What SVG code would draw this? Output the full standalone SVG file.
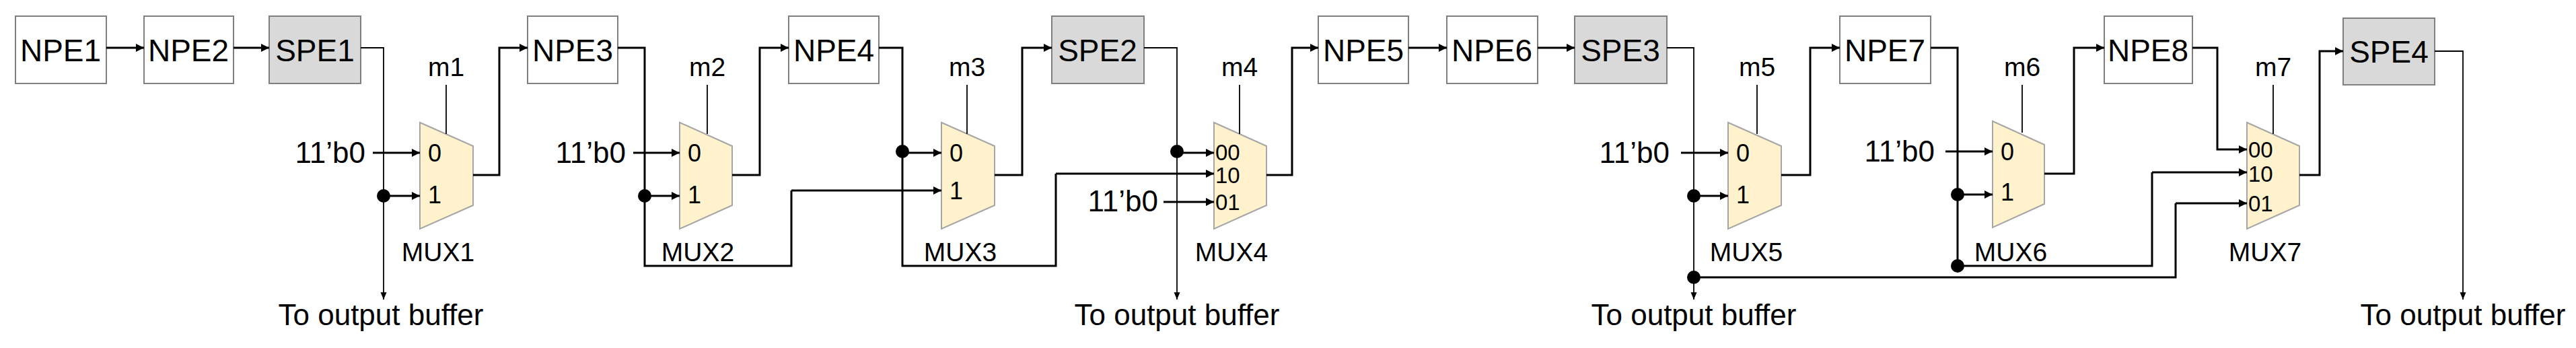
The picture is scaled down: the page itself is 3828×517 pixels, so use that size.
<svg xmlns="http://www.w3.org/2000/svg" width="3828" height="517" viewBox="0 0 3828 517">
<style>
text{font-family:"Liberation Sans",Arial,sans-serif;fill:#000}
.bx{fill:#fff;stroke:#7f7f7f;stroke-width:2}
.sp{fill:#d9d9d9;stroke:#7f7f7f;stroke-width:2}
.bt{font-size:46px;text-anchor:middle}
.mux{fill:#fff2cc;stroke:#a6a6a6;stroke-width:2}
.ml{font-size:36px}
.m2{font-size:33px}
.lb{font-size:39px;text-anchor:middle}
.k{font-size:44px;text-anchor:end}
.ob{font-size:44px;text-anchor:middle}
.w{fill:none;stroke:#000;stroke-width:3}
.t{fill:none;stroke:#000;stroke-width:1.8}
.wa{fill:none;stroke:#000;stroke-width:3;marker-end:url(#a)}
.ta{fill:none;stroke:#000;stroke-width:1.8;marker-end:url(#a2)}
</style>
<defs>
<marker id="a" markerWidth="4" markerHeight="4" refX="4" refY="2" orient="auto" markerUnits="strokeWidth"><path d="M0,0L4,2L0,4z" fill="#000"/></marker>
<marker id="a2" markerWidth="6" markerHeight="6" refX="6" refY="3" orient="auto" markerUnits="strokeWidth"><path d="M0,0.5L6,3L0,5.5z" fill="#000"/></marker>
</defs>
<rect width="3828" height="517" fill="#fff"/>
<g id="NPE1"><rect class="bx" x="23" y="24" width="135" height="100"/><text class="bt" x="90" y="91">NPE1</text></g>
<g id="NPE2"><rect class="bx" x="214" y="24" width="133" height="100"/><text class="bt" x="280" y="91">NPE2</text></g>
<g id="SPE1"><rect class="sp" x="400" y="24" width="136" height="100"/><text class="bt" x="468" y="91">SPE1</text></g>
<g id="NPE3"><rect class="bx" x="784" y="24" width="134" height="100"/><text class="bt" x="851" y="91">NPE3</text></g>
<g id="NPE4"><rect class="bx" x="1172" y="24" width="134" height="100"/><text class="bt" x="1239" y="91">NPE4</text></g>
<g id="SPE2"><rect class="sp" x="1563" y="24" width="137" height="100"/><text class="bt" x="1631" y="91">SPE2</text></g>
<g id="NPE5"><rect class="bx" x="1959" y="24" width="134" height="100"/><text class="bt" x="2026" y="91">NPE5</text></g>
<g id="NPE6"><rect class="bx" x="2150" y="24" width="135" height="100"/><text class="bt" x="2217" y="91">NPE6</text></g>
<g id="SPE3"><rect class="sp" x="2340" y="24" width="137" height="100"/><text class="bt" x="2408" y="91">SPE3</text></g>
<g id="NPE7"><rect class="bx" x="2734" y="24" width="135" height="100"/><text class="bt" x="2801" y="91">NPE7</text></g>
<g id="NPE8"><rect class="bx" x="3127" y="24" width="131" height="100"/><text class="bt" x="3192" y="91">NPE8</text></g>
<g id="SPE4"><rect class="sp" x="3482" y="27" width="136" height="99"/><text class="bt" x="3550" y="93">SPE4</text></g>

<g id="MUX1"><path class="mux" d="M624,182L703,217L703,305L624,340z"/><text class="ml" x="636" y="240">0</text><text class="ml" x="636" y="302">1</text><text class="lb" x="651" y="388">MUX1</text><text class="lb" x="663" y="113">m1</text></g>
<g id="MUX2"><path class="mux" d="M1010,182L1088,217L1088,305L1010,340z"/><text class="ml" x="1022" y="240">0</text><text class="ml" x="1022" y="302">1</text><text class="lb" x="1037" y="388">MUX2</text><text class="lb" x="1051" y="113">m2</text></g>
<g id="MUX3"><path class="mux" d="M1399,182L1478,217L1478,305L1399,340z"/><text class="ml" x="1411" y="240">0</text><text class="ml" x="1411" y="296">1</text><text class="lb" x="1427" y="388">MUX3</text><text class="lb" x="1437" y="113">m3</text></g>
<g id="MUX4"><path class="mux" d="M1804,182L1882,217L1882,305L1804,340z"/><text class="m2" x="1806" y="238">00</text><text class="m2" x="1806" y="272">10</text><text class="m2" x="1806" y="312">01</text><text class="lb" x="1830" y="388">MUX4</text><text class="lb" x="1842" y="113">m4</text></g>
<g id="MUX5"><path class="mux" d="M2568,182L2647,217L2647,305L2568,340z"/><text class="ml" x="2580" y="240">0</text><text class="ml" x="2580" y="302">1</text><text class="lb" x="2595" y="388">MUX5</text><text class="lb" x="2611" y="113">m5</text></g>
<g id="MUX6"><path class="mux" d="M2961,180L3038,215L3038,303L2961,338z"/><text class="ml" x="2973" y="238">0</text><text class="ml" x="2973" y="298">1</text><text class="lb" x="2988" y="388">MUX6</text><text class="lb" x="3005" y="113">m6</text></g>
<g id="MUX7"><path class="mux" d="M3339,182L3417,217L3417,305L3339,340z"/><text class="m2" x="3341" y="234">00</text><text class="m2" x="3341" y="270">10</text><text class="m2" x="3341" y="314">01</text><text class="lb" x="3366" y="388">MUX7</text><text class="lb" x="3378" y="113">m7</text></g>

<g id="labels">
<text class="k" x="543" y="242">11’b0</text>
<text class="k" x="930" y="242">11’b0</text>
<text class="k" x="1721" y="314">11’b0</text>
<text class="k" x="2481" y="242">11’b0</text>
<text class="k" x="2875" y="240">11’b0</text>
<text class="ob" x="566" y="483">To output buffer</text>
<text class="ob" x="1749" y="483">To output buffer</text>
<text class="ob" x="2517" y="483">To output buffer</text>
<text class="ob" x="3660" y="483">To output buffer</text>
</g>

<g id="connectors">
<path class="wa" d="M158,71H214"/>
<path class="wa" d="M347,71H400"/>
<path class="wa" d="M2093,71H2150"/>
<path class="wa" d="M2285,71H2340"/>
<path class="t" d="M663,126V199M1051,126V199M1437,126V199M1842,126V199M2611,126V199M3005,126V197M3378,126V199"/>
<path class="t" d="M536,71H570V291"/>
<path class="ta" d="M570,291V445"/>
<path class="wa" d="M570,291H624"/>
<path class="wa" d="M554,227H624"/>
<path class="wa" d="M703,260H742V71H784"/>
<path class="w" d="M918,71H958V395H1176V283"/>
<path class="wa" d="M958,291H1010"/>
<path class="wa" d="M941,227H1010"/>
<path class="wa" d="M1088,260H1129V71H1172"/>
<path class="w" d="M1306,71H1341V395H1569V258"/>
<path class="wa" d="M1341,227H1399"/>
<path class="wa" d="M1176,283H1399"/>
<path class="wa" d="M1478,260H1519V71H1563"/>
<path class="t" d="M1700,71H1749V227"/>
<path class="ta" d="M1749,227V445"/>
<path class="wa" d="M1749,227H1804"/>
<path class="wa" d="M1569,258H1804"/>
<path class="wa" d="M1729,300H1804"/>
<path class="wa" d="M1882,260H1920V71H1959"/>
<path class="t" d="M2477,71H2517V412"/>
<path class="ta" d="M2517,412V445"/>
<path class="wa" d="M2498,227H2568"/>
<path class="wa" d="M2517,291H2568"/>
<path class="w" d="M2517,412H3233V302"/>
<path class="wa" d="M2647,260H2690V71H2734"/>
<path class="w" d="M2869,71H2909V395H3198V256"/>
<path class="wa" d="M2909,289H2961"/>
<path class="wa" d="M2891,225H2961"/>
<path class="wa" d="M3038,258H3082V71H3127"/>
<path class="wa" d="M3258,71H3295V222H3339"/>
<path class="wa" d="M3198,256H3339"/>
<path class="wa" d="M3233,302H3339"/>
<path class="wa" d="M3417,260H3447V76H3482"/>
<path class="t" d="M3618,76H3660V300"/>
<path class="ta" d="M3660,300V445"/>
<g fill="#000">
<circle cx="570" cy="291" r="10"/><circle cx="958" cy="291" r="10"/>
<circle cx="1341" cy="225" r="10"/><circle cx="1749" cy="225" r="10"/>
<circle cx="2517" cy="291" r="10"/><circle cx="2517" cy="412" r="10"/>
<circle cx="2909" cy="289" r="10"/><circle cx="2909" cy="395" r="10"/>
</g>
</g>
</svg>
